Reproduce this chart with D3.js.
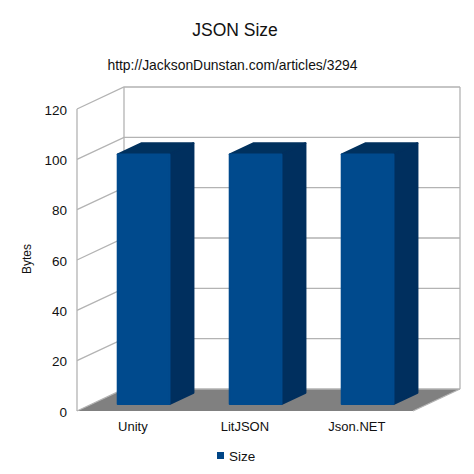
<!DOCTYPE html>
<html>
<head>
<meta charset="utf-8">
<script src="https://cdn.jsdelivr.net/npm/d3@7"></script>
<style>
  html, body { margin: 0; padding: 0; background: #fff; }
  text { font-family: "Liberation Sans", Arial, sans-serif; fill: #111; }
</style>
</head>
<body>
<div id="chart"></div>
<script>
const categories = ['Unity', 'LitJSON', 'Json.NET']
const sizes = [100, 100, 100]
const yTicks = [0, 20, 40, 60, 80, 100, 120]

const WIDTH = 474
const HEIGHT = 474
const PLOT = { LEFT: 77, RIGHT: 413, TOP: 109, BOTTOM: 411 }
const DEPTH = { X: 47, Y: -22 }

const svg = d3.select('#chart')
  .append('svg')
  .attr('width', WIDTH)
  .attr('height', HEIGHT)
  .style('display', 'block')

const x = d3.scaleBand()
  .domain(categories)
  .range([PLOT.LEFT, PLOT.RIGHT])
  .paddingInner(0.52)
  .paddingOuter(0.26)
  .align(0.464)

const y = d3.scaleLinear()
  .domain([0, 120])
  .range([PLOT.BOTTOM, PLOT.TOP])

// project a front plane point back by d (0 = front, 1 = back wall)
const px = (xv, d) => xv + DEPTH.X * d
const py = (yv, d) => yv + DEPTH.Y * d
const pts = arr => arr.map(p => p.join(',')).join(' ')

// Floor
svg.append('polygon')
  .attr('points', pts([
    [px(PLOT.LEFT, 0), py(y(0), 0)],
    [px(PLOT.RIGHT, 0), py(y(0), 0)],
    [px(PLOT.RIGHT, 1), py(y(0), 1)],
    [px(PLOT.LEFT, 1), py(y(0), 1)]
  ]))
  .attr('fill', '#808080')

// Walls and gridlines
const wallColor = '#b3b3b3'
const walls = svg.append('g')
  .attr('fill', 'none')
  .attr('stroke', wallColor)
  .attr('stroke-width', 1.3)

walls.selectAll('polyline')
  .data(yTicks)
  .enter()
  .append('polyline')
  .attr('points', d => pts([
    [px(PLOT.LEFT, 0), py(y(d), 0)],
    [px(PLOT.LEFT, 1), py(y(d), 1)],
    [px(PLOT.RIGHT, 1), py(y(d), 1)]
  ]))

walls.append('line')
  .attr('x1', PLOT.LEFT).attr('x2', PLOT.LEFT)
  .attr('y1', y(0)).attr('y2', y(120))
walls.append('line')
  .attr('x1', px(PLOT.LEFT, 1)).attr('x2', px(PLOT.LEFT, 1))
  .attr('y1', py(y(0), 1)).attr('y2', py(y(120), 1))
walls.append('line')
  .attr('x1', px(PLOT.RIGHT, 1)).attr('x2', px(PLOT.RIGHT, 1))
  .attr('y1', py(y(0), 1)).attr('y2', py(y(120), 1))
walls.append('line')
  .attr('x1', PLOT.RIGHT).attr('x2', px(PLOT.RIGHT, 1))
  .attr('y1', y(0)).attr('y2', py(y(0), 1))

// Bars, sitting in the middle of the depth
const D0 = 0.27
const D1 = 0.78
const bars = svg.selectAll('g.bar')
  .data(categories.map((c, i) => ({ c, v: sizes[i] })))
  .enter()
  .append('g')
  .attr('class', 'bar')
  .attr('stroke-linejoin', 'round')
  .attr('stroke-width', 2)

const face = (sel, color, corners) => sel.append('polygon')
  .attr('points', corners)
  .attr('fill', color)
  .attr('stroke', color)

bars.each(function (d) {
  const g = d3.select(this)
  const l = x(d.c) + 1
  const r = x(d.c) + x.bandwidth() - 1
  const t = y(d.v) + 1
  const b = y(0) - 1
  // top
  face(g, '#00315e', pts([
    [px(l, D0), py(t, D0)], [px(r, D0), py(t, D0)],
    [px(r, D1), py(t, D1)], [px(l, D1), py(t, D1)]
  ]))
  // side
  face(g, '#002f5e', pts([
    [px(r, D0), py(t, D0)], [px(r, D1), py(t, D1)],
    [px(r, D1), py(b, D1)], [px(r, D0), py(b, D0)]
  ]))
  // front
  face(g, '#004a8d', pts([
    [px(l, D0), py(t, D0)], [px(r, D0), py(t, D0)],
    [px(r, D0), py(b, D0)], [px(l, D0), py(b, D0)]
  ]))
})

// Axes
const yAxisCall = d3.axisLeft(y).tickValues(yTicks).tickSize(0).tickPadding(10)
const yAxis = svg.append('g')
  .attr('transform', `translate(${PLOT.LEFT}, 1)`)
  .call(yAxisCall)
yAxis.select('.domain').remove()
yAxis.selectAll('text').attr('font-size', '13.5px').style('font-family', '"Liberation Sans", Arial, sans-serif').attr('fill', '#111')

const xAxisCall = d3.axisBottom(x).tickSize(0).tickPadding(11)
const xAxis = svg.append('g')
  .attr('transform', `translate(2, ${PLOT.BOTTOM})`)
  .call(xAxisCall)
xAxis.select('.domain').remove()
xAxis.selectAll('text').attr('font-size', '13px').style('font-family', '"Liberation Sans", Arial, sans-serif').attr('fill', '#111')

// Titles
svg.append('text')
  .attr('x', 235).attr('y', 36)
  .attr('text-anchor', 'middle')
  .attr('font-size', '17.5px')
  .text('JSON Size')

svg.append('text')
  .attr('x', 232.5).attr('y', 69.5)
  .attr('text-anchor', 'middle')
  .attr('font-size', '13.9px')
  .text('http://JacksonDunstan.com/articles/3294')

// Y label
svg.append('text')
  .attr('transform', 'translate(31, 259) rotate(-90)')
  .attr('text-anchor', 'middle')
  .attr('font-size', '12px')
  .text('Bytes')

// Legend
svg.append('rect')
  .attr('x', 217).attr('y', 452)
  .attr('width', 7).attr('height', 7)
  .attr('fill', '#004586')
svg.append('text')
  .attr('x', 229).attr('y', 461)
  .attr('font-size', '13.5px')
  .text('Size')
</script>
</body>
</html>
